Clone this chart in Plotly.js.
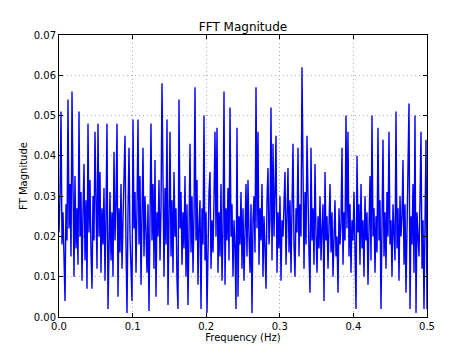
<!DOCTYPE html>
<html>
<head>
<meta charset="utf-8">
<script src="https://cdn.plot.ly/plotly-3.0.1.min.js"></script>
<style>html,body{margin:0;padding:0;background:#fff;}#chart{width:474px;height:353px;}</style>
</head>
<body>
<div id="chart"></div>
<script>
// FFT magnitude values (one per frequency bin, 0 .. 0.5 Hz)
var magnitude = [
.021,.030,.051,.018,.026,.012,.004,.028,.019,.054,
.022,.033,.015,.056,.024,.010,.035,.017,.027,.013,
.051,.020,.031,.009,.026,.038,.014,.029,.007,.048,
.021,.034,.016,.007,.030,.019,.046,.024,.012,.048,
.020,.036,.011,.027,.018,.032,.009,.025,.048,.002,
.023,.031,.014,.026,.010,.041,.019,.028,.048,.005,
.027,.016,.033,.012,.024,.037,.045,.018,.001,.026,
.042,.020,.014,.004,.049,.022,.031,.011,.027,.049,
.018,.035,.008,.025,.042,.015,.030,.021,.011,.028,
.0015,.024,.048,.019,.033,.012,.039,.005,.026,.020,
.034,.014,.027,.058,.021,.010,.032,.018,.049,.003,
.024,.046,.015,.029,.011,.036,.020,.027,.009,.002,
.054,.022,.031,.013,.026,.017,.035,.010,.028,.003,
.021,.043,.016,.030,.011,.025,.057,.019,.034,.008,
.023,.029,.002,.027,.018,.050,.014,.026,.001,.022,
.031,.036,.012,.024,.016,.029,.046,.020,.047,.011,
.026,.015,.033,.009,.021,.056,.008,.027,.019,.032,
.014,.052,.020,.028,.010,.024,.017,.002,.047,.005,
.025,.018,.031,.012,.027,.009,.022,.033,.015,.034,
.020,.011,.028,.001,.024,.030,.016,.057,.022,.046,
.013,.027,.019,.033,.010,.025,.017,.007,.029,.037,
.018,.024,.052,.014,.043,.020,.031,.045,.011,.026,
.017,.030,.009,.024,.020,.028,.036,.013,.022,.037,
.016,.029,.011,.025,.043,.018,.010,.027,.021,.042,
.015,.028,.020,.062,.024,.012,.031,.018,.045,.022,
.016,.006,.042,.019,.027,.013,.038,.021,.011,.025,
.017,.030,.014,.022,.028,.004,.036,.019,.025,.012,
.021,.033,.016,.026,.010,.024,.029,.015,.020,.006,
.027,.018,.023,.042,.013,.026,.019,.050,.022,.046,
.015,.028,.011,.024,.019,.031,.012,.002,.040,.021,
.028,.013,.033,.017,.024,.010,.030,.019,.026,.008,
.022,.035,.014,.050,.020,.027,.011,.025,.016,.047,
.019,.029,.002,.023,.044,.015,.026,.012,.031,.020,
.046,.018,.024,.010,.028,.021,.014,.051,.017,.027,
.009,.030,.020,.025,.039,.013,.028,.006,.022,.031,
.053,.002,.025,.018,.033,.011,.050,.001,.026,.020,
.015,.029,.046,.012,.024,.002,.031,.044,.002
];
var freqStart = 0;
var freqEnd = 0.5;
var xTickVals = [0, 0.1, 0.2, 0.3, 0.4, 0.5];
var xTickText = ['0.0', '0.1', '0.2', '0.3', '0.4', '0.5'];
var yTickVals = [0, 0.01, 0.02, 0.03, 0.04, 0.05, 0.06, 0.07];
var yTickText = ['0.00', '0.01', '0.02', '0.03', '0.04', '0.05', '0.06', '0.07'];

var trace = {
  type: 'scatter',
  mode: 'lines',
  y: magnitude,
  x0: freqStart,
  dx: (freqEnd - freqStart) / (magnitude.length - 1),
  line: {color: '#0000ff', width: 1.4},
  hoverinfo: 'skip'
};

var font = {family: 'DejaVu Sans, sans-serif', size: 10, color: '#000'};
var axisCommon = {
  showline: true, mirror: 'ticks', linecolor: '#000', linewidth: 1,
  ticks: 'inside', ticklen: 4, tickwidth: 1, tickcolor: '#000',
  showgrid: true, gridcolor: '#a8a8a8', gridwidth: 1, griddash: '1px,3px',
  zeroline: false, tickfont: font
};

var layout = {
  width: 474, height: 353,
  margin: {l: 59, r: 47, t: 35, b: 36, pad: 0},
  paper_bgcolor: '#fff', plot_bgcolor: '#fff',
  font: font,
  showlegend: false,
  title: {text: 'FFT Magnitude', font: {family: 'DejaVu Sans, sans-serif', size: 12, color: '#000'},
          x: 0.5, xanchor: 'center', xref: 'paper', y: 1 - 27/353, yref: 'container', yanchor: 'middle'},
  xaxis: Object.assign({}, axisCommon, {
    range: [0, 0.5], tickvals: xTickVals, ticktext: xTickText,
    title: {text: 'Frequency (Hz)', font: font, standoff: 2}
  }),
  yaxis: Object.assign({}, axisCommon, {
    range: [0, 0.07], tickvals: yTickVals, ticktext: yTickText,
    title: {text: 'FT Magnitude', font: font, standoff: 4}
  })
};

Plotly.newPlot('chart', [trace], layout, {displayModeBar: false, staticPlot: true});
</script>
</body>
</html>
